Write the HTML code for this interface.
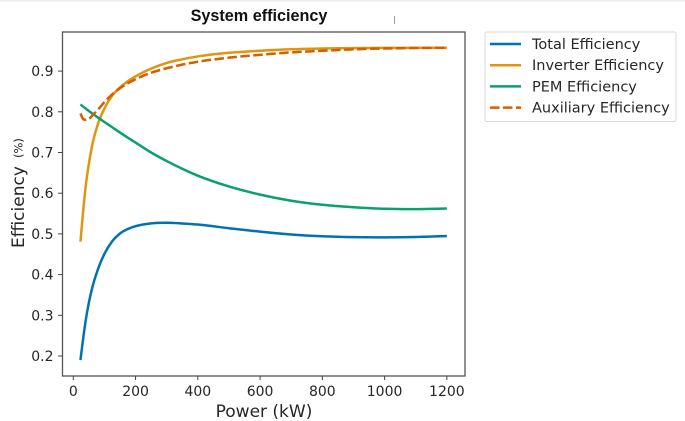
<!DOCTYPE html>
<html>
<head>
<meta charset="utf-8">
<style>
html,body{margin:0;padding:0;background:#fff;}
body{width:685px;height:421px;overflow:hidden;}
svg{display:block;filter:blur(0.3px);}
text{font-family:"DejaVu Sans","Liberation Sans",sans-serif;fill:#262626;}
</style>
</head>
<body>
<svg id="chart" width="685" height="421" viewBox="0 0 685 421" xmlns="http://www.w3.org/2000/svg">
  <rect x="0" y="0" width="685" height="1.5" fill="#eeeeee"/>
  <text x="259" y="21" text-anchor="middle" font-size="16.2" font-weight="700" style="font-family:'Liberation Sans',sans-serif;fill:#111">System efficiency</text>
  <line x1="394.5" x2="394.5" y1="16" y2="24" stroke="#999" stroke-width="1"/>
  <g id="plot"></g>
  <rect x="62.5" y="32" width="402.5" height="344" fill="none" stroke="#555" stroke-width="1.3"/>
  <text x="264" y="417" text-anchor="middle" font-size="17">Power (kW)</text>
  <text transform="translate(24,248) rotate(-90)" font-size="17">Efficiency</text>
  <text transform="translate(22.5,158) rotate(-90)" font-size="11.5">(%)</text>
  <g id="legend">
    <rect x="485" y="32" width="191" height="89.5" rx="2" fill="#fff" stroke="#d8d8d8" stroke-width="1"/>
  </g>
</svg>
<script>
const powerKw = [23,30,40,50,60,80,100,125,150,175,200,250,300,350,400,500,600,700,800,900,1000,1100,1200];
const totalEfficiency = [0.19,0.233,0.288,0.331,0.365,0.415,0.451,0.482,0.501,0.512,0.519,0.526,0.5275,0.5257,0.523,0.514,0.5055,0.4985,0.4942,0.492,0.4915,0.4925,0.495];
const inverterEfficiency = [0.481,0.542,0.618,0.672,0.715,0.772,0.808,0.84,0.86,0.875,0.887,0.906,0.92,0.929,0.936,0.945,0.95,0.9536,0.9555,0.9565,0.957,0.9573,0.9575];
const pemEfficiency = [0.818,0.8138,0.8078,0.802,0.7965,0.7855,0.775,0.762,0.749,0.7365,0.7245,0.7,0.679,0.66,0.643,0.6165,0.5965,0.5815,0.5715,0.5655,0.5618,0.561,0.5625];
const auxiliaryEfficiency = [0.796,0.784,0.78,0.782,0.79,0.806,0.824,0.843,0.858,0.87,0.88,0.896,0.907,0.916,0.923,0.933,0.94,0.946,0.95,0.9535,0.9555,0.9568,0.9575];
const xTicks = [0,200,400,600,800,1000,1200];
const yTicks = [0.2,0.3,0.4,0.5,0.6,0.7,0.8,0.9];
const seriesNames = ["Total Efficiency","Inverter Efficiency","PEM Efficiency","Auxiliary Efficiency"];

const NS = "http://www.w3.org/2000/svg";
const xScale = v => 73.3 + v * 0.3113;
const yScale = v => 356 - (v - 0.2) * 407;
const plot = document.getElementById("plot");
const legend = document.getElementById("legend");
const chart = document.getElementById("chart");

function smoothPath(xs, ys) {
  const pts = xs.map((x, i) => [xScale(x), yScale(ys[i])]);
  const n = pts.length;
  const slopes = [];
  for (let i = 0; i < n - 1; i++) slopes.push((pts[i + 1][1] - pts[i][1]) / (pts[i + 1][0] - pts[i][0]));
  const tangents = pts.map((p, i) => {
    if (i === 0) return slopes[0];
    if (i === n - 1) return slopes[n - 2];
    const h0 = pts[i][0] - pts[i - 1][0], h1 = pts[i + 1][0] - pts[i][0];
    return (h1 * slopes[i - 1] + h0 * slopes[i]) / (h0 + h1);
  });
  let d = "M" + pts[0][0].toFixed(2) + " " + pts[0][1].toFixed(2);
  for (let i = 0; i < n - 1; i++) {
    const h = pts[i + 1][0] - pts[i][0];
    d += "C" + (pts[i][0] + h / 3).toFixed(2) + " " + (pts[i][1] + tangents[i] * h / 3).toFixed(2) + " "
      + (pts[i + 1][0] - h / 3).toFixed(2) + " " + (pts[i + 1][1] - tangents[i + 1] * h / 3).toFixed(2) + " "
      + pts[i + 1][0].toFixed(2) + " " + pts[i + 1][1].toFixed(2);
  }
  return d;
}

xTicks.forEach(t => {
  const tick = document.createElementNS(NS, "line");
  
  
  tick.setAttribute("x1", xScale(t));
  tick.setAttribute("x2", xScale(t));
  tick.setAttribute("y1", 376);
  tick.setAttribute("y2", 380);
  tick.setAttribute("stroke", "#444");
  tick.setAttribute("stroke-width", "1");
  chart.appendChild(tick);
  const label = document.createElementNS(NS, "text");
  
  
  label.setAttribute("x", xScale(t));
  label.setAttribute("y", 396);
  label.setAttribute("text-anchor", "middle");
  label.setAttribute("font-size", "14");
  label.textContent = String(t);
  chart.appendChild(label);
});

yTicks.forEach(t => {
  const tick = document.createElementNS(NS, "line");
  
  
  tick.setAttribute("x1", 58);
  tick.setAttribute("x2", 62.5);
  tick.setAttribute("y1", yScale(t));
  tick.setAttribute("y2", yScale(t));
  tick.setAttribute("stroke", "#444");
  tick.setAttribute("stroke-width", "1");
  chart.appendChild(tick);
  const label = document.createElementNS(NS, "text");
  
  
  label.setAttribute("x", 53.5);
  label.setAttribute("y", yScale(t) + 5);
  label.setAttribute("text-anchor", "end");
  label.setAttribute("font-size", "14");
  label.textContent = t.toFixed(1);
  chart.appendChild(label);
});

const seriesStyles = [
  {key: "total", color: "#0072b2", dash: "", values: totalEfficiency},
  {key: "inverter", color: "#e1950e", dash: "", values: inverterEfficiency},
  {key: "pem", color: "#0aa070", dash: "", values: pemEfficiency},
  {key: "auxiliary", color: "#d55e00", dash: "9.5 3.5", values: auxiliaryEfficiency}
];

seriesStyles.forEach((s, i) => {
  const line = document.createElementNS(NS, "path");
  
  
  line.setAttribute("d", smoothPath(powerKw, s.values));
  line.setAttribute("fill", "none");
  line.setAttribute("stroke", s.color);
  line.setAttribute("stroke-width", "2.5");
  if (s.dash) line.setAttribute("stroke-dasharray", s.dash);
  plot.appendChild(line);

  const rowY = 44 + i * 21.2;
  const key = document.createElementNS(NS, "line");
  
  
  key.setAttribute("x1", 490);
  key.setAttribute("x2", 521);
  key.setAttribute("y1", rowY);
  key.setAttribute("y2", rowY);
  key.setAttribute("stroke", s.color);
  key.setAttribute("stroke-width", "2.5");
  if (s.dash) key.setAttribute("stroke-dasharray", s.dash);
  legend.appendChild(key);

  const text = document.createElementNS(NS, "text");
  
  
  text.setAttribute("x", 532);
  text.setAttribute("y", rowY + 5);
  text.setAttribute("font-size", "14.5");
  text.textContent = seriesNames[i];
  legend.appendChild(text);
});
</script>
</body>
</html>
